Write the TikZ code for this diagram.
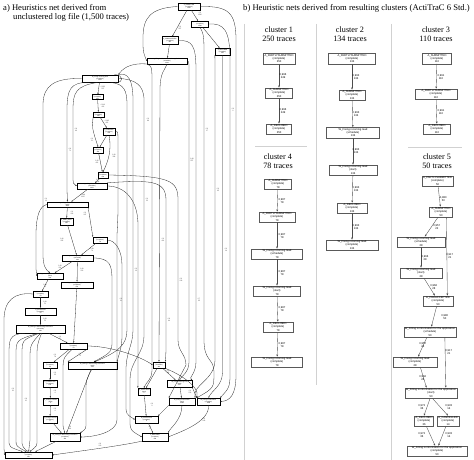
\documentclass[tikz,border=0pt]{standalone}
\usepackage{fontspec}
\setmainfont{Liberation Serif}
\newfontfamily\sansbox{Liberation Sans}
\usetikzlibrary{arrows.meta}
\newcommand{\mkL}[7][]{\node[lbox,minimum width=#5pt,minimum height=#6pt,#1] (#2) at (#3,#4) {#7};}
\newcommand{\mkR}[7][]{\node[rbox,minimum width=#5pt,#1] (#2) at (#3,#4) {#6\\#7};}
\begin{document}
\begin{tikzpicture}[x=1pt,y=-1pt,
 rbox/.style={draw=black!65, line width=0.3pt, fill=white, font=\sansbox\fontsize{2.7}{3.1}\selectfont, align=center, inner xsep=1pt, inner ysep=0.5pt, minimum height=10.5pt},
 rlab/.style={font=\sansbox\fontsize{2.7}{3.1}\selectfont, align=center, inner sep=0.2pt, anchor=west},
 redge/.style={draw=black!70, line width=0.35pt, -{Stealth[length=2.2pt,width=1.8pt]}},
 lbox/.style={draw, line width=0.35pt, fill=white, font=\sansbox\fontsize{1.5}{1.75}\selectfont, align=center, inner sep=0.3pt},
 bbox/.style={line width=0.8pt},
 ledge/.style={draw=black!85, line width=0.3pt, -{Stealth[length=1.5pt,width=1.2pt]}},
 llab/.style={font=\sansbox\fontsize{1.7}{2}\selectfont, align=center, inner sep=0.2pt, text=black!75},
 sepl/.style={draw=black!18, line width=0.6pt},
 head/.style={font=\fontsize{8.2}{9}\selectfont, anchor=base, inner sep=0pt},
 title/.style={font=\fontsize{8.6}{9}\selectfont, anchor=base west, inner sep=0pt}]
\useasboundingbox (0,0) rectangle (474,460);

% ---------------- titles
\node[title] (ta1) at (3,10.5) {a) Heuristics net derived from};
\node[title] (ta2) at (13,19.5) {unclustered log file (1,500 traces)};
\node[title] (tb) at (243,10.5) {b) Heuristic nets derived from resulting clusters (ActiTraC 6 Std.)};

% ---------------- separators
\draw[sepl] (244,24) -- (244,460);
\draw[sepl] (316,24) -- (316,385);
\draw[sepl] (391,24) -- (391,460);
\draw[sepl] (255,146) -- (307,146);
\draw[sepl] (408,147) -- (462,147);

% ---------------- headings
\node[head] (h1a) at (279,33) {cluster 1};
\node[head] (h1b) at (279,42) {250 traces};
\node[head] (h2a) at (350,33) {cluster 2};
\node[head] (h2b) at (350,42) {134 traces};
\node[head] (h3a) at (436,33) {cluster 3};
\node[head] (h3b) at (436,42) {110 traces};
\node[head] (h4a) at (278,159) {cluster 4};
\node[head] (h4b) at (278,168) {78 traces};
\node[head] (h5a) at (437,159) {cluster 5};
\node[head] (h5b) at (437,168) {50 traces};

% ---------------- cluster 1
\mkR{c1a}{279}{58.5}{32}{A\_PARTLYSUBMITTED\\(complete)}{250}
\mkR{c1b}{279}{93}{27}{A\_SUBMITTED\\(complete)}{250}
\mkR{c1c}{279}{129}{25}{A\_DECLINED\\(complete)}{250}
\draw[redge] (c1a) -- (c1b);
\draw[redge] (c1b) -- (c1c);
\node[rlab] (k1a) at (279.3,76.5) {0,996\\249};
\node[rlab] (k1b) at (279.3,111.5) {0,996\\249};

% ---------------- cluster 2
\mkR{c2a}{352}{58.5}{47}{A\_PARTLYSUBMITTED\\(complete)}{134}
\mkR{c2b}{352}{95}{26}{A\_SUBMITTED\\(complete)}{134}
\mkR{c2c}{353}{132.5}{53}{W\_Fixing incoming lead\\(schedule)}{134}
\mkR{c2d}{353}{170}{48}{W\_Fixing incoming lead\\(start)}{134}
\mkR{c2e}{352}{208}{30}{A\_DECLINED\\(complete)}{134}
\mkR{c2f}{352}{245}{52}{W\_Fixing incoming lead\\(complete)}{134}
\draw[redge] (c2a) -- (c2b);
\draw[redge] (c2b) -- (c2c);
\draw[redge] (c2c) -- (c2d);
\draw[redge] (c2d) -- (c2e);
\draw[redge] (c2e) -- (c2f);
\node[rlab] (k2a) at (352.3,77) {0,993\\134};
\node[rlab] (k2b) at (352.3,114) {0,993\\134};
\node[rlab] (k2c) at (352.3,151.5) {0,993\\134};
\node[rlab] (k2d) at (352.3,189.5) {0,993\\134};
\node[rlab] (k2e) at (352.3,227) {0,993\\134};

% ---------------- cluster 3
\mkR{c3a}{437}{58.5}{29}{A\_SUBMITTED\\(complete)}{110}
\mkR{c3b}{436}{94}{42}{A\_PARTLYSUBMITTED\\(complete)}{110}
\mkR{c3c}{437}{129}{27}{A\_DECLINED\\(complete)}{110}
\draw[redge] (c3a) -- (c3b);
\draw[redge] (c3b) -- (c3c);
\node[rlab] (k3a) at (437.3,77) {0,991\\110};
\node[rlab] (k3b) at (437.3,112) {0,991\\110};

% ---------------- cluster 4
\mkR{c4a}{278}{184}{27}{A\_SUBMITTED\\(complete)}{78}
\mkR{c4b}{277}{217}{36}{A\_PARTLYSUBMITTED\\(complete)}{78}
\mkR{c4c}{277}{254}{51}{W\_Fixing incoming lead\\(schedule)}{78}
\mkR{c4d}{277}{291}{47}{W\_Fixing incoming lead\\(start)}{78}
\mkR{c4e}{278}{327}{30}{A\_DECLINED\\(complete)}{78}
\mkR{c4f}{277}{362}{51}{W\_Fixing incoming lead\\(complete)}{78}
\draw[redge] (c4a) -- (c4b);
\draw[redge] (c4b) -- (c4c);
\draw[redge] (c4c) -- (c4d);
\draw[redge] (c4d) -- (c4e);
\draw[redge] (c4e) -- (c4f);
\node[rlab] (k4a) at (278.3,201) {0,987\\78};
\node[rlab] (k4b) at (278.3,236) {0,987\\78};
\node[rlab] (k4c) at (278.3,273) {0,987\\78};
\node[rlab] (k4d) at (278.3,309) {0,987\\78};
\node[rlab] (k4e) at (278.3,345) {0,987\\78};

% ---------------- cluster 5
\mkR{c5a}{437.5}{181}{31}{A\_PARTLYSUBMITTED\\(complete)}{50}
\mkR{c5b}{441}{212}{23}{A\_SUBMITTED\\(complete)}{50}
\mkR{c5c}{421}{242}{48}{W\_Fixing incoming lead\\(schedule)}{28}
\mkR{c5d}{421}{273}{42}{W\_Fixing incoming lead\\(start)}{28}
\mkR{c5e}{438}{301}{30}{A\_PREACCEPTED\\(complete)}{50}
\mkR{c5f}{430}{332}{50}{W\_Filling in information for the application\\(schedule)}{50}
\mkR{c5g}{415}{362}{44}{W\_Fixing incoming lead\\(complete)}{28}
\mkR{c5h}{431}{393}{52}{W\_Filling in information for the application\\(start)}{50}
\mkR{c5i}{424}{421}{18}{A\_DECLINED\\(complete)}{36}
\mkR{c5j}{448}{421}{20}{A\_CANCELLED\\(complete)}{14}
\mkR{c5k}{437}{451}{60}{W\_Filling in information for the application\\(complete)}{50}
\draw[redge] (c5a) -- (c5b);
\draw[redge] (c5b.-120) -- (c5c.55);
\draw[redge] (c5b.-45) -- (c5e.30);
\draw[redge] (c5c) -- (c5d);
\draw[redge] (c5d.-60) -- (c5e.120);
\draw[redge] (c5e) -- (c5f);
\draw[redge] (c5f.-120) -- (c5g.60);
\draw[redge] (c5f.-20) -- (c5h.20);
\draw[redge] (c5g.-45) -- (c5h.130);
\draw[redge] (c5h.-100) -- (c5i.north);
\draw[redge] (c5h.-75) -- (c5j.north);
\draw[redge] (c5i) -- (c5k.110);
\draw[redge] (c5j) -- (c5k.75);
\node[rlab] (k5a) at (439.5,199) {0,980\\50};
\node[rlab] (k5b) at (433,227) {0,957\\22};
\node[rlab] (k5c) at (446,256) {0,917\\21};
\node[rlab] (k5d) at (421.3,258) {0,966\\28};
\node[rlab] (k5e) at (430,287) {0,966\\28};
\node[rlab] (k5f) at (441,317) {0,980\\50};
\node[rlab] (k5g) at (419,345) {0,957\\28};
\node[rlab] (k5h) at (445,352) {0,917\\21};
\node[rlab] (k5i) at (419,378) {0,966\\28};
\node[rlab] (k5j) at (418,407) {0,973\\36};
\node[rlab] (k5k) at (445,407) {0,933\\14};
\node[rlab] (k5l) at (418,435) {0,973\\36};
\node[rlab] (k5m) at (445,435) {0,933\\14};

% ================= left heuristics net
\mkL[bbox]{L1}{189}{6.5}{22}{7}{A\_SUBMITTED\\(complete)\\1500}
\mkL{L2}{200}{24}{14}{6}{A\_PARTLYSUBMITTED\\(complete)\\1500}
\mkL{L3}{170}{40.5}{16}{8}{A\_PREACCEPTED\\(complete)\\857}
\mkL{L4}{167}{61}{40}{6}{W\_Filling in information for the application\\(schedule)\\1061}
\mkL{L5}{222.5}{51.5}{15}{7}{A\_DECLINED\\(complete)\\644}
\mkL[bbox]{L6}{100}{78.5}{36}{7}{W\_Fixing incoming lead\\(complete)\\1012}
\mkL{L7}{97.5}{97}{10}{5}{A\_ACCEPTED\\(complete)\\504}
\mkL{L8}{98.5}{114.5}{10}{5}{O\_SELECTED\\(complete)\\420}
\mkL{L9}{109}{131.5}{12}{7}{O\_CREATED\\(complete)\\420}
\mkL{L10}{98}{150}{10}{6}{O\_SENT\\(complete)\\420}
\mkL{L11}{103}{175}{10}{6}{A\_FINALIZED\\(complete)\\390}
\mkL{L12}{92}{186}{30}{6}{W\_Calling after sent offers\\(schedule)\\1150}
\mkL{L13}{67.5}{204.5}{41}{5.5}{W\_Calling after sent offers\\(start)\\1150}
\mkL{L14}{66.5}{221.5}{13}{7}{O\_SENT\_BACK\\(complete)\\209}
\mkL{L15}{100}{240}{14}{6}{A\_APPROVED\\(complete)\\78}
\mkL{L16}{77.5}{258}{31}{6}{W\_Assessing the application\\(schedule)\\218}
\mkL{L17}{50}{276}{26}{6}{W\_Assessing the application\\(start)\\420}
\mkL[bbox]{L18}{77}{285}{32}{6}{W\_Assessing the application\\(complete)\\420}
\mkL{L19}{40.5}{294}{15}{6}{A\_REGISTERED\\(complete)\\78}
\mkL{L20}{40.5}{311.5}{31}{7}{O\_ACCEPTED\\(complete)\\78}
\mkL{L21}{40.5}{329}{49}{8}{W\_Calling to add missing information\\(schedule)\\256}
\mkL{L22}{73.5}{346}{27}{6}{A\_ACTIVATED\\(complete)\\78}
\mkL{L23}{50}{365}{14}{6}{O\_DECLINED\\(complete)\\25}
\mkL{L24}{92.5}{365.5}{49}{7}{W\_Calling to add missing information\\(start)\\461}
\mkL{L25}{50}{383.5}{14}{7}{O\_CANCELLED\\(complete)\\133}
\mkL{L26}{50.5}{401.5}{15}{7}{W\_Change contract\\(start)\\4}
\mkL{L27}{50}{419.5}{14}{7}{W\_Change contract\\(complete)\\4}
\mkL{L28}{65}{437}{30}{8}{W\_Calling to add missing information\\(complete)\\461}
\mkL[bbox]{L29}{28.5}{455}{47}{6}{A\_CANCELLED\\(complete)\\206}
\mkL[bbox]{L30}{159}{365}{12}{6}{W\_Fixing lead\\(schedule)\\411}
\mkL{L31}{179.5}{383.5}{25}{7}{W\_Fixing incoming lead\\(start)\\557}
\mkL{L32}{144}{391.5}{12}{7}{W\_Assess fraud\\(start)\\9}
\mkL{L33}{182}{401.5}{26}{7}{W\_Filling in information\\(start)\\1089}
\mkL{L34}{208.5}{401.5}{23}{7}{W\_Filling in information\\(complete)\\1089}
\mkL{L35}{146.5}{419.5}{23}{7}{W\_Assess fraud\\(complete)\\9}
\mkL{L36}{155}{437}{26}{8}{A\_DECLINED\\(complete)\\644}

% --- spine
\draw[ledge] (L1) -- (L3);
\draw[ledge] (L1) -- (L2);
\draw[ledge] (L2) -- (L5);
\draw[ledge] (L3) -- (L4);
\draw[ledge] (L1.west) .. controls (150,8) and (143,18) .. (143,38) .. controls (143,52) .. (L4.west);
\draw[ledge] (L4.190) .. controls (128,62) and (122,70) .. (L6.north east);
\draw[ledge] (L6.15) .. controls (124,75) and (124,83) .. (L6.-15);
\draw[ledge] (L6) -- (L7);
\draw[ledge] (L7) -- (L8);
\draw[ledge] (L8) -- (L9);
\draw[ledge] (L8.south west) .. controls (92,128) .. (L10.north);
\draw[ledge] (L9) -- (L10);
\draw[ledge] (L9.south) .. controls (112,150) and (108,162) .. (L11.north);
\draw[ledge] (L10) -- (L11);
\draw[ledge] (L11) -- (L12);
\draw[ledge] (L12) -- (L13);
\draw[ledge] (L13) -- (L14);
\draw[ledge] (L13.south east) -- (L15.north west);
\draw[ledge] (L14) -- (L16);
\draw[ledge] (L15) -- (L16);
\draw[ledge] (L16) -- (L17);
\draw[ledge] (L16) -- (L18);
\draw[ledge] (L17) -- (L19);
\draw[ledge] (L19) -- (L20);
\draw[ledge] (L20) -- (L21);
\draw[ledge] (L21) -- (L22);
\draw[ledge] (L18) -- (L22);
\draw[ledge] (L22) -- (L23);
\draw[ledge] (L22.south east) -- (L24.north west);
\draw[ledge] (L23) -- (L25);
\draw[ledge] (L25) -- (L26);
\draw[ledge] (L26) -- (L27);
\draw[ledge] (L27) -- (L28);
\draw[ledge] (L24) -- (L28);
\draw[ledge] (L28) -- (L29);

% --- long curves, left
\draw[ledge] (L6.west) .. controls (55,78) and (43,85) .. (43,105) -- (43,255) .. controls (43,266) and (46,270) .. (L17.north);
\draw[ledge] (L6.200) .. controls (70,82) and (67,90) .. (67,110) -- (67,190) .. controls (67,196) .. (L13.north);
\draw[ledge] (L6.240) .. controls (76,86) and (73,92) .. (73,110) -- (73,175) .. controls (73,184) .. (L12.west);
\draw[ledge] (L13.west) .. controls (40,206) and (36,215) .. (36,235) -- (36,262) .. controls (36,270) .. (L17.west);
\draw[ledge] (L19.west) .. controls (15,292) and (4,300) .. (4,320) -- (4,440) .. controls (4,450) .. (L29.west);
\draw[ledge] (L21.195) .. controls (9,334) and (9,340) .. (9,355) -- (9,440) .. controls (9,447) .. (L29.150);
\draw[ledge] (L21.240) .. controls (16,340) .. (16,355) -- (16,440) .. controls (16,446) .. (L29.125);
\draw[ledge] (L21.255) .. controls (22,340) .. (22,355) -- (22,440) .. controls (22,446) .. (L29.105);
\draw[ledge] (L21.270) .. controls (30,345) .. (30,360) -- (30,440) .. controls (30,446) .. (L29.90);
\draw[ledge] (L21.285) .. controls (37,345) .. (37,360) -- (37,440) .. controls (37,446) .. (L29.70);
\draw[ledge] (L22.250) .. controls (63,358) .. (63,372) -- (63,420) .. controls (63,428) .. (L28.north);
\draw[ledge] (L24.260) .. controls (86,380) .. (86,392) -- (86,422) .. controls (86,429) .. (L28.north east);
\draw[ledge] (L16.east) .. controls (110,258) and (112,265) .. (112,280) -- (112,340) .. controls (112,352) .. (L24.70);
\draw[ledge] (L15.east) .. controls (115,240) and (122,250) .. (122,265) -- (122,335) .. controls (122,350) and (118,356) .. (L24.north east);
\draw[ledge] (L9.east) .. controls (118,131) .. (118,145) -- (118,200) .. controls (118,215) .. (117,235) -- (117,420) .. controls (117,432) and (95,437) .. (L28.east);
\draw[ledge] (L12.east) .. controls (125,186) and (138,200) .. (138,225) -- (138,375) .. controls (138,384) .. (L32.north west);
\draw[ledge] (L36.south west) .. controls (120,446) and (80,451) .. (L29.east);

% --- long rails, right of left panel
\draw[ledge] (L1.east) .. controls (228,6) and (236,12) .. (236,40) -- (236,375) .. controls (236,395) and (230,401) .. (L34.east);
\draw[ledge] (L2.east) .. controls (224,23) and (230,30) .. (230,60) -- (230,378) .. controls (230,390) and (224,393) .. (L34.north east);
\draw[ledge] (L5.south) -- (222.5,80) -- (222.5,372) .. controls (222.5,386) and (212,390) .. (L34.north);
\draw[ledge] (L5.south west) .. controls (215,62) .. (215,80) -- (215,360) .. controls (215,380) and (192,385) .. (L33.north east);
\draw[ledge] (L2.south) .. controls (204,35) .. (204,60) -- (204,340) .. controls (204,362) and (214,358) .. (214,372) .. controls (214,388) .. (L34.north west);
\draw[ledge] (L3.east) .. controls (192,40) and (196,45) .. (196,70) -- (196,362) .. controls (196,374) and (188,378) .. (L31.north east);
\draw[ledge] (L4.east) .. controls (189,61) .. (189,75) -- (189,362) .. controls (189,372) and (182,376) .. (L31.north);
\draw[ledge] (L4.south) .. controls (165,70) and (160,72) .. (160,90) -- (L30.north);
\draw[ledge] (L4.south west) .. controls (152,66) .. (152,85) -- (152,370) .. controls (152,380) and (146,382) .. (L32.north);
\draw[ledge] (L6.east) .. controls (135,79) and (144,85) .. (144,100) -- (144,335) .. controls (144,355) and (130,360) .. (130,380) -- (130,420) .. controls (130,430) .. (L36.west);
\draw[ledge] (L6.north east) .. controls (128,72) and (133,80) .. (133,100) -- (133,330) .. controls (133,345) and (126,352) .. (126,370) -- (126,405) .. controls (126,414) .. (L35.west);
\draw[ledge] (L6.-20) .. controls (124,84) and (127,90) .. (127,105) -- (127,330) .. controls (127,345) and (118,352) .. (L24.60);
\draw[ledge] (L11.east) .. controls (170,176) and (178,180) .. (178,200) -- (178,340) .. controls (178,352) and (186,354) .. (186,365) -- (L33.north west);
\draw[ledge] (L12.north east) .. controls (150,180) and (166,180) .. (166,200) -- (166,340) .. controls (166,352) .. (L30.north east);

% --- bottom-right cluster
\draw[ledge] (L22.east) .. controls (110,346) and (140,356) .. (L30.west);
\draw[ledge] (L30) -- (L31);
\draw[ledge] (L30) -- (L32);
\draw[ledge] (L30.south east) .. controls (175,372) and (200,385) .. (L34.north west);
\draw[ledge] (L31) -- (L33);
\draw[ledge] (L31.south east) -- (L34.north west);
\draw[ledge] (L32) -- (L35);
\draw[ledge] (L33.south west) -- (L35.north east);
\draw[ledge] (L35) -- (L36);
\draw[ledge] (L34.south) .. controls (210,422) and (180,432) .. (L36.east);
\draw[ledge] (L33.south) .. controls (182,420) and (170,428) .. (L36.north east);

% --- tiny edge labels
\node[llab] (m1) at (103,88) {0,952\\507};
\node[llab] (m2) at (103,106) {0,913\\412};
\node[llab] (m3) at (107,122) {0,985\\402};
\node[llab] (m4) at (92,140) {0,9\\21};
\node[llab] (m5) at (114,156) {0,99\\398};
\node[llab] (m6) at (97,162) {0,99\\412};
\node[llab] (m7) at (98,180.5) {0,96\\389};
\node[llab] (m8) at (83,196) {0,998\\1150};
\node[llab] (m9) at (85,214) {0,9\\187};
\node[llab] (m10) at (72,213) {0,9\\209};
\node[llab] (m11) at (62,240) {0,96\\205};
\node[llab] (m12) at (92,250) {0,98\\74};
\node[llab] (m13) at (60,267) {0,99\\201};
\node[llab] (m14) at (82,270) {0,99\\213};
\node[llab] (m15) at (45,285.5) {0,98\\78};
\node[llab] (m16) at (45,302.5) {0,98\\78};
\node[llab] (m17) at (45,320) {0,98\\78};
\node[llab] (m18) at (60,338) {0,9\\78};
\node[llab] (m19) at (55,356) {0,9\\78};
\node[llab] (m20) at (80,355) {0,9\\75};
\node[llab] (m21) at (55,374) {0,9\\25};
\node[llab] (m22) at (55,392) {0,8\\4};
\node[llab] (m23) at (55,410) {0,8\\4};
\node[llab] (m24) at (70,428) {0,9\\461};
\node[llab] (m25) at (46,200) {0,6\\12};
\node[llab] (m26) at (70,150) {0,8\\71};
\node[llab] (m27) at (76,130) {0,8\\49};
\node[llab] (m28) at (13,390) {0,9\\23};
\node[llab] (m29) at (26,400) {0,8\\12};
\node[llab] (m30) at (148,120) {0,9\\88};
\node[llab] (m31) at (163,240) {0,9\\411};
\node[llab] (m32) at (192,160) {0,98\\557};
\node[llab] (m33) at (199,300) {0,7\\35};
\node[llab] (m34) at (218,190) {0,9\\65};
\node[llab] (m35) at (226,250) {0,9\\14};
\node[llab] (m36) at (233,110) {0,9\\6};
\node[llab] (m37) at (136,270) {0,9\\10};
\node[llab] (m38) at (121,300) {0,8\\31};
\node[llab] (m39) at (147,200) {0,6\\22};
\node[llab] (m40) at (181,280) {0,9\\130};
\node[llab] (m41) at (169,320) {0,8\\44};
\node[llab] (m42) at (207,130) {0,9\\17};
\node[llab] (m43) at (180,28) {0,9\\857};
\node[llab] (m44) at (200,14) {0,9\\1500};
\node[llab] (m45) at (168,372) {0,9\\382};
\node[llab] (m46) at (190,392) {0,9\\530};
\node[llab] (m47) at (152,405) {0,9\\9};
\node[llab] (m48) at (150,428) {0,9\\9};
\node[llab] (m49) at (204,420) {0,9\\640};
\node[llab] (m50) at (100,445) {0,8\\120};
\end{tikzpicture}
\end{document}
